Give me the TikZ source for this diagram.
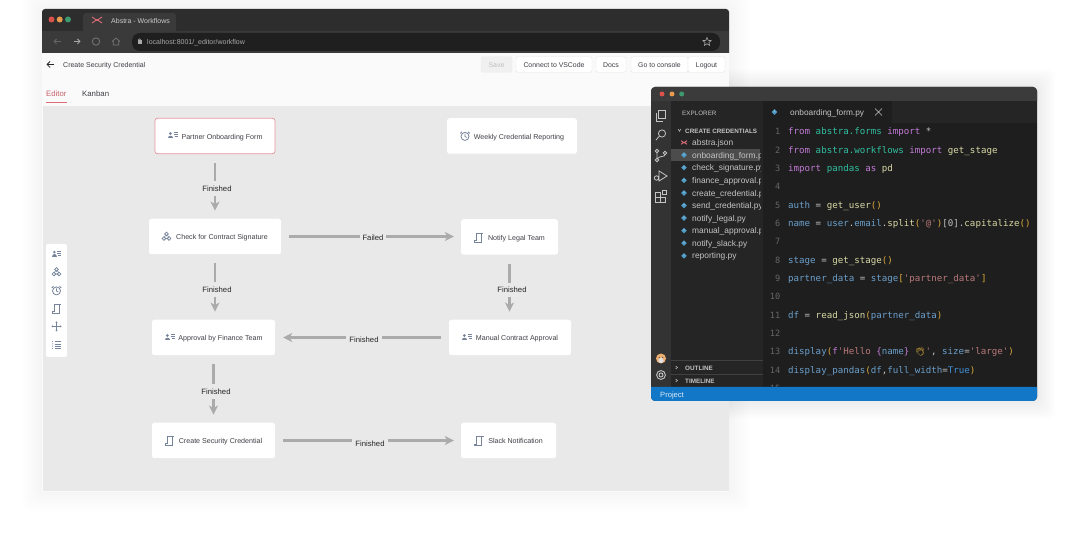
\documentclass[tikz,border=0pt]{standalone}
\usepackage{xcolor}
\usepackage{fontspec}
\setmainfont{Liberation Sans}
\newfontfamily\codefont{DejaVu Sans Mono}
\newfontfamily\emojifont{Noto Emoji}
\usetikzlibrary{arrows.meta,calc,positioning}
\definecolor{canvasgray}{HTML}{E9E9E9}
\definecolor{headerwhite}{HTML}{FAFAFA}
\definecolor{arrowgray}{HTML}{ABABAB}
\definecolor{inkgray}{HTML}{3F3F46}
\definecolor{iconslate}{HTML}{76839B}
\definecolor{abstrared}{HTML}{DC6C78}
\definecolor{tabdark}{HTML}{2D2D2D}
\definecolor{tabgray}{HTML}{3A3A3A}
\definecolor{pilldark}{HTML}{1F1F1F}
\definecolor{chromefg}{HTML}{A9A9A9}
\definecolor{dotred}{HTML}{D9534A}
\definecolor{dotorange}{HTML}{E89A4F}
\definecolor{dotgreen}{HTML}{3C9A6E}
\definecolor{vstitle}{HTML}{3B3B3B}
\definecolor{vsbar}{HTML}{333333}
\definecolor{vsside}{HTML}{252525}
\definecolor{vsedit}{HTML}{1E1E1E}
\definecolor{vsblue}{HTML}{1277C7}
\definecolor{vstext}{HTML}{C4C4C4}
\definecolor{vspy}{HTML}{4F9CC6}
\definecolor{codekw}{HTML}{C27BD6}
\definecolor{codemod}{HTML}{2FBF9F}
\definecolor{codevar}{HTML}{6B9FCB}
\definecolor{codefun}{HTML}{D8D8A6}
\definecolor{codestr}{HTML}{B9787A}
\definecolor{codegold}{HTML}{D9A93A}
\definecolor{codetrue}{HTML}{3F8FD6}
\newcommand{\cKw}[1]{\textcolor{codekw}{#1}}
\newcommand{\cMod}[1]{\textcolor{codemod}{#1}}
\newcommand{\cVar}[1]{\textcolor{codevar}{#1}}
\newcommand{\cFun}[1]{\textcolor{codefun}{#1}}
\newcommand{\cStr}[1]{\textcolor{codestr}{#1}}
\newcommand{\cGold}[1]{\textcolor{codegold}{#1}}
\tikzset{
    capline/.style={text height=6.4pt, text depth=0pt},
    stepbox/.style={fill=white, rounded corners=2.5pt, minimum height=35.5pt, inner sep=0pt, capline, text=inkgray, font=\fontsize{7.1}{8}\selectfont},
    flow/.style={draw=arrowgray, line width=2.2pt, -{Stealth[length=9pt,width=9pt,inset=2.5pt]}},
    flowlabel/.style={fill=canvasgray, inner xsep=3pt, inner ysep=4pt, capline, text=black!85, font=\fontsize{7.7}{8}\selectfont},
    btn/.style={draw=black!10, fill=white, rounded corners=1.5pt, minimum height=15.5pt, inner sep=0pt, capline, text=inkgray, font=\fontsize{6.9}{8}\selectfont},
    chrometext/.style={text=chromefg, anchor=west, inner sep=0pt, capline, font=\fontsize{7}{8}\selectfont},
    filename/.style={text=vstext, anchor=west, inner sep=0pt, capline, font=\fontsize{8.4}{9}\selectfont},
    sidehead/.style={text=vstext, anchor=west, inner sep=0pt, capline, font=\bfseries\fontsize{6.3}{8}\selectfont},
    codeline/.style={anchor=west, inner sep=0pt, capline, text=vstext, font=\codefont\fontsize{9.15}{10}\selectfont},
    linenum/.style={anchor=east, inner sep=0pt, capline, text=white!40!black, font=\codefont\fontsize{8.6}{10}\selectfont},
    usericon/.pic={
        \fill[iconslate] (-2.2,-2) circle (1.5);
        \fill[iconslate] (-5,3) .. controls (-5,-0.6) and (0.6,-0.6) .. (0.6,3) -- cycle;
        \draw[iconslate, line width=0.6pt] (1,-3) -- (5,-3) (1,-1) -- (5,-1) (2,1) -- (5,1);
    },
    forkicon/.pic={
        \draw[iconslate, line width=0.8pt] (0,-2.6) circle (1.8) (-2.6,2) circle (1.8) (2.6,2) circle (1.8);
        \draw[iconslate, line width=0.6pt] (-1,-1) -- (-2,0.3) (1,-1) -- (2,0.3) (-0.8,2) -- (0.8,2);
    },
    clockicon/.pic={
        \draw[iconslate, line width=0.8pt] (0,0.4) circle (4);
        \draw[iconslate, line width=0.7pt] (0,-2) -- (0,0.6) -- (1.8,1.4);
        \draw[iconslate, line width=0.9pt] (-4.8,-2.6) -- (-3,-4.2) (4.8,-2.6) -- (3,-4.2);
    },
    scrollicon/.pic={
        \draw[iconslate, line width=0.8pt] (4.5,-4.5) -- (-2.5,-4.5) -- (-2.5,3) -- (-4.5,3) -- (-4.5,4.5) -- (2.5,4.5) -- (2.5,-4.2);
    },
    moveicon/.pic={
        \draw[iconslate, line width=0.7pt] (-3.8,0) -- (3.8,0) (0,-3.8) -- (0,3.8);
        \fill[iconslate] (0,0) circle (1.2) (-4,0) circle (1) (4,0) circle (1) (0,-4) circle (1) (0,4) circle (1);
    },
    listicon/.pic={
        \draw[iconslate, line width=0.6pt] (-2,-3.4) -- (4.5,-3.4) (-2,-1.1) -- (4.5,-1.1) (-2,1.2) -- (4.5,1.2) (-2,3.5) -- (4.5,3.5);
        \fill[iconslate] (-4,-3.4) circle (0.5) (-4,-1.1) circle (0.5) (-4,1.2) circle (0.5) (-4,3.5) circle (0.5);
    },
    pyicon/.pic={
        \fill[vspy, rotate=45] (-2.3,-2.3) rectangle (2.3,2.3);
        \fill[vspy!60!white] (0,-1) circle (0.8);
    },
    abstralogo/.pic={
        \draw[abstrared, line width=0.9pt] (-5,-3) -- (0,0.4) -- (5,-3) (-5,3) -- (0,-0.4) -- (5,3);
    },
}
\begin{document}
\begin{tikzpicture}[x=1pt, y=-1pt]
    \useasboundingbox (0,0) rectangle (1080,545);
    \fill[white] (0,0) rectangle (1080,545);

    % Soft shadows
    \foreach \s in {2,4,...,20} {
        \fill[black, opacity=0.004, rounded corners=8pt] (42-\s,9-\s) rectangle (729+\s,491+\s);
    }
    \foreach \s in {2,4,...,18} {
        \fill[black, opacity=0.006, rounded corners=8pt] (651-\s,87-\s) rectangle (1037+\s,401+\s);
    }

    % Browser window
    \fill[headerwhite] (42,53) rectangle (729,492);
    \fill[tabdark] (42,53) [rounded corners=3pt] -- (42,9) -- (729,9) [sharp corners] -- (729,53) -- cycle;
    \fill[tabgray] (42,31) rectangle (729,53);
    \fill[tabgray] (83,31) [rounded corners=3pt] -- (83,13) -- (176,13) [sharp corners] -- (176,31) -- cycle;
    \fill[pilldark, rounded corners=8pt] (132,33) rectangle (720,51);
    \fill[canvasgray] (43,106) rectangle (729,491);
    \fill[dotred] (51.5,19.5) circle (3);
    \fill[dotorange] (59.7,19.5) circle (3);
    \fill[dotgreen] (68,19.5) circle (3);
    \pic at (97,20) {abstralogo};
    \node[chrometext, text=white!80!black] (tabtitle) at (111,20.5) {Abstra - Workflows};
    \draw[chromefg!60!black, line width=0.8pt, -{Straight Barb[length=2.5pt]}] (60.5,41.5) -- (53.5,41.5);
    \draw[chromefg, line width=0.8pt, -{Straight Barb[length=2.5pt]}] (73.5,41.5) -- (80.5,41.5);
    \draw[chromefg!70!black, line width=0.8pt] (96,41.5) circle (3.7);
    \draw[chromefg!70!black, line width=0.7pt] (112,41.5) -- (116,38) -- (120,41.5) (113.2,41) -- (113.2,45) -- (118.8,45) -- (118.8,41);
    \fill[chromefg] (137.5,40.5) rectangle (141.5,44);
    \draw[chromefg, line width=0.6pt] (139.5,40) circle (1.3);
    \node[chrometext] (urltext) at (147,41.5) {localhost:8001/\_editor/workflow};
    \draw[chromefg, line width=0.6pt] (707,37.5) -- (708.2,40.4) -- (711.2,40.6) -- (708.9,42.5) -- (709.6,45.4) -- (707,43.8) -- (704.4,45.4) -- (705.1,42.5) -- (702.8,40.6) -- (705.8,40.4) -- cycle;

    % Page header
    \draw[black!85, line width=0.8pt, -{Straight Barb[length=3pt]}] (54,64.5) -- (46.5,64.5);
    \node[anchor=west, inner sep=0pt, capline, text=inkgray, font=\fontsize{7}{8}\selectfont] (pagetitle) at (63,64.5) {Create Security Credential};
    \node[btn, draw=black!8, fill=black!6, text=black!25, minimum width=31pt] (savebtn) at (496.5,64.5) {Save};
    \node[btn, minimum width=76pt] (vscodebtn) at (554,64.5) {Connect to VSCode};
    \node[btn, minimum width=30pt] (docsbtn) at (611,64.5) {Docs};
    \node[btn, minimum width=57pt] (consolebtn) at (659.5,64.5) {Go to console};
    \node[btn, minimum width=37pt] (logoutbtn) at (706.5,64.5) {Logout};
    \node[anchor=west, inner sep=0pt, capline, text=abstrared!90!black, font=\fontsize{7.8}{10}\selectfont] (editortab) at (46,93.5) {Editor};
    \node[anchor=west, inner sep=0pt, capline, text=inkgray, font=\fontsize{7.8}{10}\selectfont] (kanbantab) at (82,93.5) {Kanban};
    \draw[abstrared, line width=1pt] (46,102.7) -- (67,102.7);

    % Steps
    \node[stepbox, draw=abstrared!70!white, line width=0.8pt, minimum width=120pt] (partner) at (215,136) {\hspace*{14pt}Partner Onboarding Form};
    \node[stepbox, minimum width=130pt] (weekly) at (512,136) {\hspace*{14pt}Weekly Credential Reporting};
    \node[stepbox, minimum width=132pt] (check) at (215,236.5) {\hspace*{14pt}Check for Contract Signature};
    \node[stepbox, minimum width=97pt] (legal) at (509.5,237) {\hspace*{14pt}Notify Legal Team};
    \node[stepbox, minimum width=123pt] (finance) at (213.5,337.5) {\hspace*{14pt}Approval by Finance Team};
    \node[stepbox, minimum width=122pt] (manual) at (510,337.5) {\hspace*{14pt}Manual Contract Approval};
    \node[stepbox, minimum width=123pt] (create) at (213.5,440.5) {\hspace*{14pt}Create Security Credential};
    \node[stepbox, minimum width=95pt] (slack) at (508.5,440.5) {\hspace*{14pt}Slack Notification};

    % Step icons
    \pic at (172.5,135.5) {usericon};
    \pic at (465,136) {clockicon};
    \pic at (166.5,236.5) {forkicon};
    \pic at (478.5,237.5) {scrollicon};
    \pic at (169.5,337.5) {usericon};
    \pic at (466.5,337.5) {usericon};
    \pic at (169.5,440.5) {scrollicon};
    \pic at (479,441) {scrollicon};

    % Connectors
    \draw[flow, shorten <=9pt, shorten >=8pt] (partner.south) -- node[flowlabel, xshift=2pt, yshift=-2pt] (labelone) {Finished} (partner.south |- check.north);
    \draw[flow, shorten <=8pt, shorten >=7pt] (check.east) -- node[flowlabel, xshift=2pt, yshift=-1pt] (labeltwo) {Failed} (check.east -| legal.west);
    \draw[flow, shorten <=9pt, shorten >=8pt] (check.south) -- node[flowlabel, xshift=2pt, yshift=-2.5pt] (labelthree) {Finished} (check.south |- finance.north);
    \draw[flow, shorten <=9pt, shorten >=8pt] (legal.south) -- node[flowlabel, xshift=2.5pt, yshift=-2.5pt] (labelfour) {Finished} (legal.south |- manual.north);
    \draw[flow, shorten <=8pt, shorten >=8pt] (manual.west) -- node[flowlabel, xshift=2pt, yshift=-1.5pt] (labelfive) {Finished} (manual.west -| finance.east);
    \draw[flow, shorten <=9pt, shorten >=8pt] (finance.south) -- node[flowlabel, xshift=2.5pt, yshift=-2.5pt] (labelsix) {Finished} (finance.south |- create.north);
    \draw[flow, shorten <=8pt, shorten >=7pt] (create.east) -- node[flowlabel, xshift=2pt, yshift=-2.5pt] (labelseven) {Finished} (create.east -| slack.west);

    % Palette
    \node[fill=white, rounded corners=2pt, minimum width=21pt, minimum height=113pt, inner sep=0pt] (palette) at (56.5,300.5) {};
    \pic[scale=0.95] at (56.5,254) {usericon};
    \pic at (56.5,272) {forkicon};
    \pic at (56.5,290.5) {clockicon};
    \pic at (56.5,308.5) {scrollicon};
    \pic at (56.5,326.5) {moveicon};
    \pic at (56.5,345) {listicon};

    % Editor window
    \fill[vsedit, rounded corners=4pt] (651,87) rectangle (1037,401);
    \fill[vstitle] (651,101) [rounded corners=4pt] -- (651,87) -- (1037,87) [sharp corners] -- (1037,101) -- cycle;
    \fill[vsbar] (651,101) rectangle (671,388);
    \fill[vsside] (671,101) rectangle (763,388);
    \fill[vsside] (763,101) rectangle (1037,123);
    \fill[vsedit] (763,101) rectangle (892,123);
    \fill[dotred] (662,94) circle (2.5);
    \fill[dotorange] (672,94) circle (2.5);
    \fill[dotgreen] (681.7,94) circle (2.5);

    % Activity bar
    \draw[vstext, line width=0.8pt] (658.5,110.5) rectangle (665.5,118.5) (656,113) -- (656,121) -- (662.5,121);
    \draw[vstext, line width=0.8pt] (662,133.5) circle (3.6) (659.5,136) -- (656,140);
    \draw[vstext, line width=0.8pt] (657,151) circle (1.7) (665,153) circle (1.7) (657,160) circle (1.7) (657,152.7) -- (657,158.3) (665,154.7) .. controls (665,157) and (659,156) .. (657.6,158.4);
    \draw[vstext, line width=0.8pt] (659,171) -- (667,176) -- (659,181) -- cycle (656.5,178) circle (2.2);
    \draw[vstext, line width=0.8pt] (655.5,192) rectangle (660.5,197) (655.5,197) rectangle (660.5,202) (660.5,197) rectangle (665.5,202) (662,190) rectangle (666.5,194.5);
    \fill[dotorange!80!white] (661,358.5) circle (5);
    \fill[white!88!black] (661,360.5) circle (2.6);
    \fill[black!70] (659.3,357.5) circle (0.6) (662.7,357.5) circle (0.6);
    \draw[vstext, line width=0.9pt] (661,375) circle (2) (661,375) circle (4.4);

    % Explorer
    \node[sidehead, font=\fontsize{6.3}{8}\selectfont] (explorerhead) at (682,112) {EXPLORER};
    \node[sidehead] (projecthead) at (685,130) {CREATE CREDENTIALS};
    \draw[vstext, line width=0.5pt] (678,129) -- (679.5,131.3) -- (681,129);
    \fill[white!30!black] (671,149) rectangle (760,161.5);
    \pic[scale=0.6] at (684,142.5) {abstralogo};
    \begin{scope}
        \clip (671,136) rectangle (760,262);
        \node[filename] (fileabstra) at (692,142.5) {abstra.json};
        \node[filename] (fileonboarding) at (692,155) {onboarding\_form.py};
        \node[filename] (filecheck) at (692,167.7) {check\_signature.py};
        \node[filename] (filefinance) at (692,180.3) {finance\_approval.py};
        \node[filename] (filecreate) at (692,193) {create\_credential.py};
        \node[filename] (filesend) at (692,205.5) {send\_credential.py};
        \node[filename] (filelegal) at (692,218) {notify\_legal.py};
        \node[filename] (filemanual) at (692,230.7) {manual\_approval.py};
        \node[filename] (fileslack) at (692,243.2) {notify\_slack.py};
        \node[filename] (filereport) at (692,255.8) {reporting.py};
    \end{scope}
    \foreach \y in {155,167.7,180.3,193,205.5,218,230.7,243.2,255.8} {
        \pic[scale=0.85] at (684,\y) {pyicon};
    }
    \draw[white!25!black, line width=0.7pt] (671,360.5) -- (763,360.5) (671,374) -- (763,374);
    \node[sidehead] (outlinehead) at (685,367.5) {OUTLINE};
    \node[sidehead] (timelinehead) at (685,380.7) {TIMELINE};
    \draw[vstext, line width=0.5pt] (675.5,366) -- (677.5,367.5) -- (675.5,369) (675.5,379) -- (677.5,380.5) -- (675.5,382);

    % Tab
    \pic[scale=0.9] at (774.5,112) {pyicon};
    \node[filename, font=\fontsize{8.3}{10}\selectfont] (tabfile) at (790,112) {onboarding\_form.py};
    \draw[vstext, line width=0.6pt] (875,108.5) -- (882,115.5) (882,108.5) -- (875,115.5);

    % Code
    \foreach \n in {1,...,15} {
        \node[linenum] (num\n) at (780.5,{131.7+18.33*(\n-1)}) {\n};
    }
    \node[codeline] (codeone) at (788,131.7) {\cKw{from} \cMod{abstra.forms} \cKw{import} *};
    \node[codeline] (codetwo) at (788,150) {\cKw{from} \cMod{abstra.workflows} \cKw{import} \cFun{get\_stage}};
    \node[codeline] (codethree) at (788,168.4) {\cKw{import} \cMod{pandas} \cKw{as} \cFun{pd}};
    \node[codeline] (codefive) at (788,205) {\cVar{auth} = \cFun{get\_user}\cGold{()}};
    \node[codeline] (codesix) at (788,223.4) {\cVar{name} = \cVar{user}.\cVar{email}.\cFun{split}\cGold{(}\cStr{'@'}\cGold{)}[0].\cFun{capitalize}\cGold{()}};
    \node[codeline] (codeeight) at (788,260) {\cVar{stage} = \cFun{get\_stage}\cGold{()}};
    \node[codeline] (codenine) at (788,278.4) {\cVar{partner\_data} = \cVar{stage}\cGold{[}\cStr{'partner\_data'}\cGold{]}};
    \node[codeline] (codeeleven) at (788,315) {\cVar{df} = \cFun{read\_json}\cGold{(}\cVar{partner\_data}\cGold{)}};
    \node[codeline] (codethirteen) at (788,351.7) {\cVar{display}\cGold{(}\cKw{f}\cStr{'Hello }\cKw{\{}\cVar{name}\cKw{\}} \textcolor{codegold}{\emojifont\fontsize{8.5}{10}\selectfont 👏}\cStr{'}, \cVar{size}=\cStr{'large'}\cGold{)}};
    \node[codeline] (codefourteen) at (788,370) {\cVar{display\_pandas}\cGold{(}\cVar{df},\cVar{full\_width}=\textcolor{codetrue}{True}\cGold{)}};

    % Status bar
    \fill[vsblue] (651,387) -- (1037,387) [rounded corners=4pt] -- (1037,401) -- (651,401) [sharp corners] -- cycle;
    \node[anchor=west, inner sep=0pt, capline, text=white!85!vsblue, font=\fontsize{7.6}{9}\selectfont] (statusproject) at (660,394) {Project};
\end{tikzpicture}
\end{document}
